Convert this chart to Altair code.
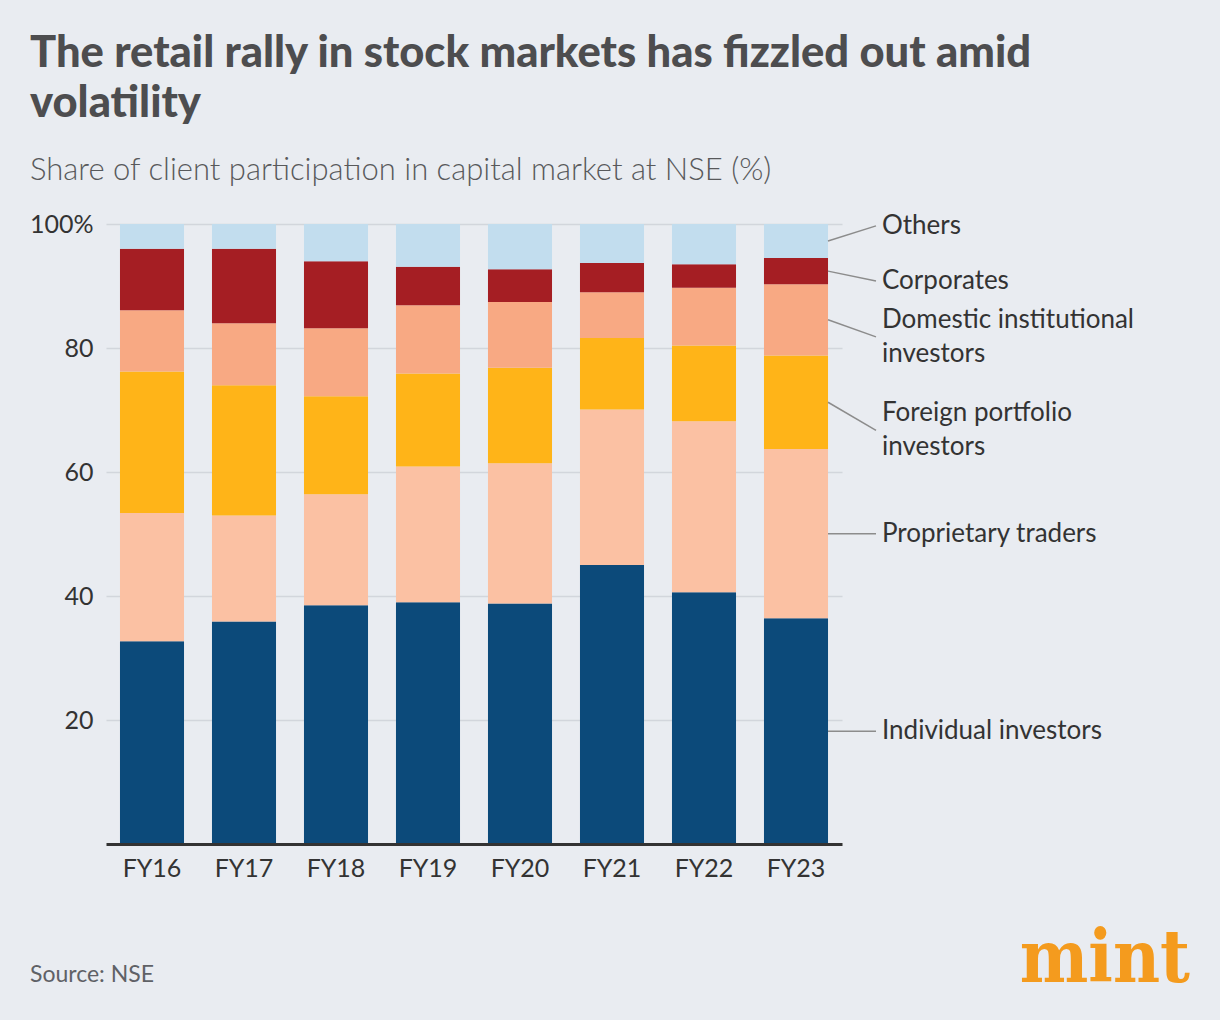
import altair as alt
import pandas as pd

# Share of client participation in the NSE capital market segment (%)
years = ["FY16", "FY17", "FY18", "FY19", "FY20", "FY21", "FY22", "FY23"]
individual = [32.7, 35.9, 38.5, 39.0, 38.8, 45.0, 40.6, 36.4]
proprietary = [20.7, 17.1, 17.9, 21.9, 22.6, 25.1, 27.6, 27.3]
fpi = [22.8, 21.0, 15.8, 15.0, 15.4, 11.5, 12.2, 15.1]
dii = [9.9, 10.0, 11.0, 11.0, 10.6, 7.4, 9.3, 11.5]
corporates = [9.9, 12.0, 10.8, 6.2, 5.3, 4.7, 3.8, 4.2]
others = [4.0, 4.0, 6.0, 6.9, 7.3, 6.3, 6.5, 5.5]

categories = [
    "Individual investors",
    "Proprietary traders",
    "Foreign portfolio investors",
    "Domestic institutional investors",
    "Corporates",
    "Others",
]
label_lines = [
    ["Individual investors"],
    ["Proprietary traders"],
    ["Foreign portfolio", "investors"],
    ["Domestic institutional", "investors"],
    ["Corporates"],
    ["Others"],
]
colors = ["#0c4a7a", "#fbc1a3", "#ffb418", "#f8a983", "#a51e23", "#c2ddee"]
# y-scale value where each side label is anchored
label_at = [18.2, 50.05, 66.7, 81.8, 90.8, 99.7]

series = [individual, proprietary, fpi, dii, corporates, others]

rows = []
for k, (cat, vals) in enumerate(zip(categories, series)):
    for yr, v in zip(years, vals):
        rows.append({"year": yr, "category": cat, "value": v, "rank": k})
df = pd.DataFrame(rows)

# leader lines start at the middle of each FY23 segment
last = [s[-1] for s in series]
mids, base = [], 0.0
for v in last:
    mids.append(base + v / 2)
    base += v
labels = pd.DataFrame(
    {
        "category": categories,
        "lines": label_lines,
        "nlines": [len(l) for l in label_lines],
        "mid": mids,
        "label_y": label_at,
    }
)

FONT = "Lato"
BG = "#e9ecf1"
TEXT = "#333333"
LINE_H = 34

y_scale = alt.Scale(domain=[0, 100], nice=False)

bars = alt.Chart(df).mark_bar().encode(
    x=alt.X(
        "year:N",
        sort=years,
        scale=alt.Scale(paddingInner=0.304, paddingOuter=0.152),
        axis=alt.Axis(
            title=None,
            labelAngle=0,
            ticks=False,
            grid=False,
            domainColor="#333333",
            domainWidth=3,
            labelFont=FONT,
            labelFontSize=25,
            labelColor=TEXT,
            labelPadding=12,
            zindex=1,
        ),
    ),
    y=alt.Y(
        "value:Q",
        stack="zero",
        scale=y_scale,
        axis=alt.Axis(
            title=None,
            values=[20, 40, 60, 80, 100],
            labelExpr="datum.value == 100 ? '100%' : datum.label",
            domain=False,
            ticks=False,
            grid=True,
            gridColor="#d2d6dc",
            gridWidth=1.5,
            labelFont=FONT,
            labelFontSize=25,
            labelColor=TEXT,
            labelPadding=13,
            zindex=0,
        ),
    ),
    color=alt.Color(
        "category:N", scale=alt.Scale(domain=categories, range=colors), legend=None
    ),
    order=alt.Order("rank:Q"),
)

leaders = alt.Chart(labels).mark_rule(color="#8c8c8c", strokeWidth=1.5).encode(
    x=alt.value(722),
    x2=alt.value(770),
    y=alt.Y("mid:Q", scale=y_scale, title=None),
    y2="label_y:Q",
)


def side_text(n, shift):
    return (
        alt.Chart(labels)
        .transform_filter(alt.datum.nlines == n)
        .mark_text(
            align="left",
            baseline="middle",
            font=FONT,
            fontSize=26,
            color=TEXT,
            lineHeight=LINE_H,
            dy=shift,
        )
        .encode(
            x=alt.value(776),
            y=alt.Y("label_y:Q", scale=y_scale, title=None),
            text="lines",
        )
    )


one_line = side_text(1, 0)
two_line = side_text(2, -LINE_H / 2)


def note(text, x, y, size, color, weight="normal", font=FONT, align="left"):
    return alt.Chart(pd.DataFrame({"t": [text]})).mark_text(
        align=align,
        baseline="alphabetic",
        font=font,
        fontSize=size,
        fontWeight=weight,
        color=color,
    ).encode(x=alt.value(x), y=alt.value(y), text="t:N")


title1 = note("The retail rally in stock markets has fizzled out amid", -76, -157, 43.5, "#4d4d4f", 900)
title2 = note("volatility", -76, -107, 43.5, "#4d4d4f", 900)
subtitle = note("Share of client participation in capital market at NSE (%)", -76, -44, 31, "#58595b", 300)
source = note("Source: NSE", -76, 758, 23, "#5f6166")
logo = note("mint", 1190 - 106, 758, 72, "#f49b1e", "bold", "DejaVu Serif Condensed", "right")

chart = (
    alt.layer(bars, leaders, one_line, two_line, title1, title2, subtitle, source, logo)
    .properties(
        width=736,
        height=620,
        autosize=alt.AutoSizeParams(type="none"),
        padding={"left": 106, "top": 224, "right": 378, "bottom": 176},
        background=BG,
    )
    .configure_view(stroke=None)
)

chart.save("out.html", embed_options={"renderer": "svg", "actions": False})
